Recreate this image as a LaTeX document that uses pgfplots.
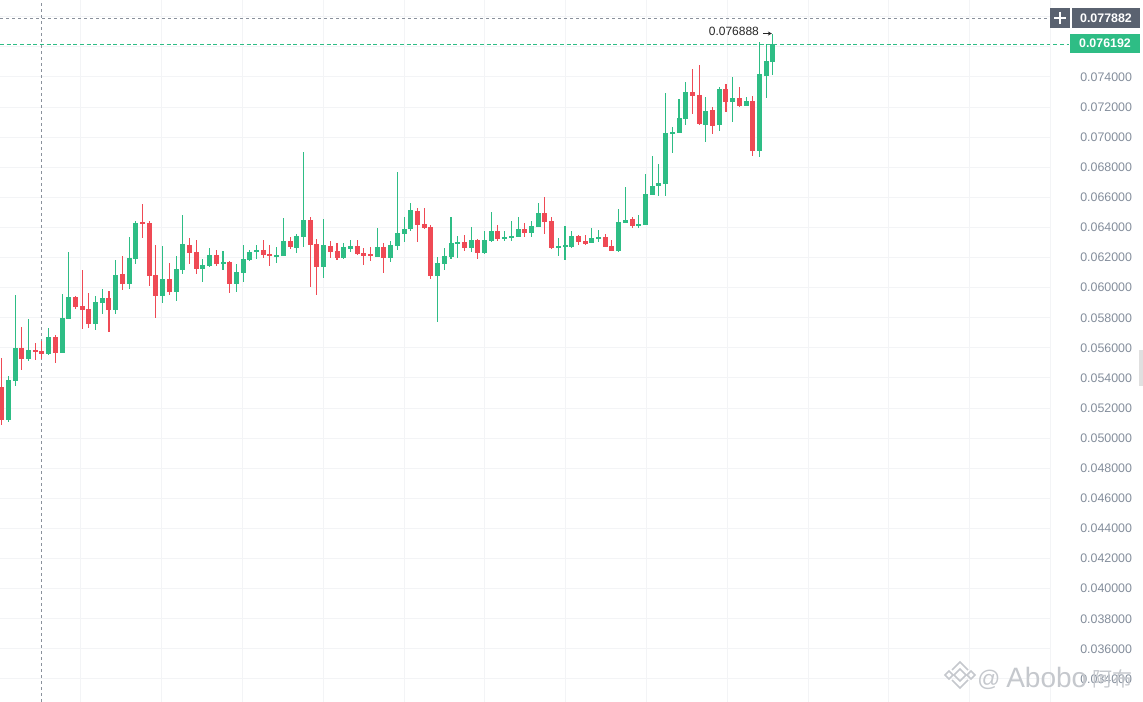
\documentclass[border=0pt]{standalone}
\usepackage{pgfplots}
\pgfplotsset{compat=1.18}
\usepackage{pgfplotstable}
\usepackage{fontspec}
\setmainfont{Liberation Sans}
\newfontfamily\cjk{Noto Sans CJK SC}
\usetikzlibrary{arrows.meta}
\definecolor{cgreen}{HTML}{2EBD85}
\definecolor{cred}{HTML}{EF4A55}
\definecolor{gridc}{HTML}{F3F4F6}
\definecolor{tickc}{HTML}{848E9C}
\definecolor{tagdark}{HTML}{5A6270}
\definecolor{cross}{HTML}{8A919C}
\definecolor{wm}{HTML}{C5C8CD}

\pgfplotstableread{
i o h l c
2 0.051208 0.054152 0.051095 0.053866
3 0.053800 0.059514 0.053487 0.056012
5 0.055261 0.057919 0.055148 0.055859
8 0.055594 0.057321 0.055507 0.056723
10 0.055660 0.059581 0.055660 0.057986
11 0.057919 0.062352 0.057919 0.059361
15 0.057607 0.059468 0.057208 0.059049
16 0.059003 0.059913 0.058272 0.059315
18 0.058537 0.061820 0.058272 0.060843
20 0.060265 0.063348 0.059913 0.061973
21 0.061926 0.064432 0.061574 0.064319
25 0.059468 0.062770 0.059003 0.060577
27 0.059734 0.062086 0.059096 0.061242
28 0.061195 0.064830 0.060930 0.062903
31 0.061262 0.061906 0.060378 0.061508
32 0.061461 0.062637 0.061355 0.062172
34 0.061574 0.062438 0.061195 0.061707
36 0.060265 0.061554 0.059694 0.061043
37 0.060996 0.062837 0.060398 0.061906
38 0.061860 0.062504 0.061793 0.062372
39 0.062352 0.062837 0.061926 0.062504
42 0.062086 0.062724 0.061621 0.062172
43 0.062126 0.064631 0.062126 0.063083
45 0.062657 0.063548 0.062305 0.063435
46 0.063388 0.069036 0.062724 0.064498
49 0.061395 0.064564 0.060624 0.062837
52 0.061993 0.062990 0.061886 0.062704
53 0.062591 0.063189 0.062391 0.062770
57 0.062039 0.063946 0.062039 0.062704
59 0.061993 0.063103 0.061727 0.062837
60 0.062790 0.067707 0.062504 0.063614
61 0.063588 0.064717 0.063016 0.063900
62 0.063900 0.065608 0.063767 0.065162
66 0.060797 0.062059 0.057700 0.061641
67 0.061594 0.062637 0.061175 0.062106
68 0.062059 0.064677 0.061886 0.062950
69 0.062923 0.063415 0.061993 0.063016
71 0.062657 0.064013 0.062391 0.063149
73 0.062325 0.063767 0.062239 0.063149
74 0.063122 0.065010 0.063056 0.063747
76 0.063282 0.063767 0.063103 0.063368
77 0.063322 0.064432 0.063103 0.063435
78 0.063388 0.064677 0.063348 0.063880
80 0.063654 0.064432 0.063388 0.064099
81 0.064053 0.065608 0.064013 0.064943
84 0.062657 0.063322 0.062106 0.062770
85 0.062724 0.064099 0.061840 0.062837
86 0.062724 0.063787 0.062657 0.063435
89 0.062990 0.063966 0.062950 0.063282
90 0.063255 0.063834 0.063056 0.063368
93 0.062458 0.065209 0.062391 0.064365
94 0.064319 0.066671 0.064279 0.064478
96 0.064119 0.064810 0.063986 0.064232
97 0.064199 0.067555 0.064199 0.066226
98 0.066192 0.068751 0.066159 0.066777
99 0.066777 0.068219 0.066093 0.066937
100 0.066923 0.072917 0.066126 0.070259
101 0.070233 0.070698 0.068930 0.070326
102 0.070299 0.072558 0.070259 0.071276
103 0.071229 0.073648 0.070811 0.073004
106 0.070831 0.072691 0.069701 0.071741
108 0.070811 0.073316 0.070432 0.073203
110 0.072359 0.074020 0.071030 0.072585
112 0.072093 0.072691 0.072093 0.072406
114 0.069103 0.076306 0.068704 0.074200
115 0.074087 0.076193 0.072625 0.075044
116 0.075017 0.076888 0.074133 0.076192
}\greendata

\pgfplotstableread{
i o h l c
1 0.053401 0.055328 0.050876 0.051208
4 0.056012 0.057408 0.054530 0.055261
6 0.055859 0.056345 0.055195 0.055727
7 0.055793 0.056457 0.055241 0.055594
9 0.056723 0.056856 0.055016 0.055660
12 0.059361 0.059468 0.058564 0.058717
13 0.058783 0.061175 0.057275 0.058537
14 0.058584 0.059647 0.057321 0.057607
17 0.059315 0.059760 0.057075 0.058537
19 0.060910 0.062106 0.059866 0.060265
22 0.064385 0.065561 0.063282 0.064232
23 0.064319 0.064432 0.060132 0.060797
24 0.060843 0.062837 0.058006 0.059468
26 0.060577 0.061621 0.059494 0.059734
29 0.062837 0.063322 0.061594 0.062325
30 0.062372 0.063169 0.060910 0.061262
33 0.062172 0.062485 0.061461 0.061594
35 0.061707 0.061793 0.059647 0.060265
40 0.062504 0.063169 0.061993 0.062192
41 0.062239 0.062837 0.061421 0.062086
44 0.063083 0.063368 0.062591 0.062724
47 0.064498 0.064717 0.060066 0.062857
48 0.062903 0.063215 0.059514 0.061395
50 0.062770 0.063103 0.061953 0.062391
51 0.062438 0.062990 0.061840 0.061993
54 0.062770 0.063189 0.062152 0.062239
55 0.062325 0.062617 0.061508 0.062106
56 0.062239 0.062684 0.061754 0.062106
58 0.062704 0.062970 0.060996 0.061993
63 0.065096 0.065315 0.063056 0.064166
64 0.064212 0.065315 0.063880 0.063986
65 0.064033 0.064166 0.060577 0.060797
70 0.063016 0.063501 0.062458 0.062657
72 0.063149 0.063235 0.061886 0.062325
75 0.063747 0.064166 0.063103 0.063255
79 0.063880 0.064279 0.063348 0.063654
82 0.064943 0.066006 0.063548 0.064385
83 0.064412 0.064677 0.062591 0.062657
87 0.063435 0.063501 0.062837 0.063056
88 0.063103 0.063501 0.062817 0.062923
91 0.063368 0.063568 0.062684 0.062724
92 0.062770 0.063169 0.062458 0.062458
95 0.064564 0.064697 0.063986 0.064119
104 0.073004 0.074532 0.071522 0.072758
105 0.072804 0.074798 0.070811 0.070877
107 0.071807 0.072027 0.070233 0.070764
109 0.073203 0.073535 0.071694 0.072359
111 0.072585 0.073356 0.071987 0.072053
113 0.072406 0.072718 0.068751 0.069103
}\reddata

\pgfplotsset{
  candle/.style n args={2}{only marks, mark=*, mark options={scale=0, draw opacity=0, fill opacity=0},
    error bars/.cd, y dir=both, y explicit, error mark=none,
    error bar style={line width=#2, color=#1, line cap=butt}},
}

\begin{document}
\begin{tikzpicture}
\path[use as bounding box] (0,0) rectangle (857.25pt,526.5pt);
\fill[white] (0,0) rectangle (857.25pt,526.5pt);
\begin{axis}[
  at={(0,0)}, anchor=south west,
  scale only axis, width=787.5pt, height=526.5pt,
  xmin=0.7465, xmax=157.32, ymin=0.032469, ymax=0.079117,
  clip=false,
  axis line style={draw=none},
  major tick length=0pt,
  xtick={12.795,24.84,36.89,48.94,60.99,73.04,85.09,97.14,109.19,121.24,133.28,145.33},
  xticklabels={},
  ytick={0.034,0.036,0.038,0.040,0.042,0.044,0.046,0.048,0.050,0.052,0.054,0.056,0.058,0.060,0.062,0.064,0.066,0.068,0.070,0.072,0.074},
  extra y ticks={0.076,0.078},
  extra y tick labels={},
  extra tick style={grid=major, major grid style={draw=gridc, line width=0.75pt}},
  yticklabel pos=right,
  scaled y ticks=false,
  yticklabel style={/pgf/number format/fixed, /pgf/number format/fixed zerofill, /pgf/number format/precision=6, /pgf/number format/assume math mode=true, font=\fontsize{9.3}{11}\selectfont, text=tickc, anchor=west, inner sep=0pt, xshift=22.5pt},
  grid=major, major grid style={draw=gridc, line width=0.75pt},
]
% crosshair & price lines
\draw[cross, line width=0.75pt, dash pattern=on 2.5pt off 2pt] (axis cs:7,0.032469) -- (axis cs:7,0.079117);
\draw[cross, line width=0.75pt, dash pattern=on 2.5pt off 2pt] (axis cs:0.7465,0.077882) -- (axis cs:157.02,0.077882);
\draw[cgreen, line width=0.75pt, dash pattern=on 3pt off 2pt] (axis cs:0.7465,0.076192) -- (axis cs:160.2,0.076192);
% wicks
\addplot[candle={cgreen}{0.8pt}]
  table[x=i, y expr={(\thisrow{h}+\thisrow{l})/2}, y error expr={(\thisrow{h}-\thisrow{l})/2}] {\greendata};
\addplot[candle={cred}{0.8pt}]
  table[x=i, y expr={(\thisrow{h}+\thisrow{l})/2}, y error expr={(\thisrow{h}-\thisrow{l})/2}] {\reddata};
% bodies
\addplot[candle={cgreen}{3.75pt}]
  table[x=i, y expr={(\thisrow{o}+\thisrow{c})/2}, y error expr={abs(\thisrow{o}-\thisrow{c})/2}] {\greendata};
\addplot[candle={cred}{3.75pt}]
  table[x=i, y expr={(\thisrow{o}+\thisrow{c})/2}, y error expr={abs(\thisrow{o}-\thisrow{c})/2}] {\reddata};
% high annotation
\node[anchor=east, inner sep=0pt, text=black!85, font=\fontsize{9}{11}\selectfont] at (axis cs:113.95,0.07700) {0.076888};
\draw[black!85, line width=0.75pt, -{Stealth[length=3pt,width=3pt]}] (axis cs:114.5,0.076888) -- (axis cs:115.85,0.076888);
\end{axis}
\begin{scope}[x=0.75pt, y=-0.75pt, shift={(0,526.5pt)}]
\draw[gridc, line width=0.75pt] (1050,0) -- (1050,702);
\fill[tagdark] (1050,8) rectangle (1070,28);
\draw[white, line width=0.8pt] (1054,18) -- (1066,18) (1060,12) -- (1060,24);
\fill[tagdark] (1072,8) rectangle (1140,28);
\node[white, inner sep=0pt, font=\bfseries\fontsize{9.3}{11}\selectfont] at (1106,18) {0.077882};
\fill[cgreen] (1070,34) rectangle (1140,53);
\node[white, inner sep=0pt, font=\bfseries\fontsize{9.3}{11}\selectfont] at (1105,43.5) {0.076192};
\fill[black!12] (1139,350) rectangle (1143,386);
% watermark
\begin{scope}[wm, line width=1.1pt]
\draw (960,669) -- (966,675) -- (960,681) -- (954,675) -- cycle;
\draw (949,671) -- (953,675) -- (949,679) -- (945,675) -- cycle;
\draw (971,671) -- (975,675) -- (971,679) -- (967,675) -- cycle;
\draw (952,670) -- (960,662) -- (968,670);
\draw (952,680) -- (960,688) -- (968,680);
\end{scope}
\node[anchor=base west, inner sep=0pt, text=wm, font=\fontsize{17}{19}\selectfont] at (977,687) {@};
\node[anchor=base west, inner sep=0pt, text=wm, font=\fontsize{21}{23}\selectfont] at (1006,688) {Abobo};
\node[anchor=base west, inner sep=0pt, text=wm, font=\cjk\fontsize{15}{18}\selectfont] at (1092,687) {阿布};
\end{scope}
\end{tikzpicture}
\end{document}
